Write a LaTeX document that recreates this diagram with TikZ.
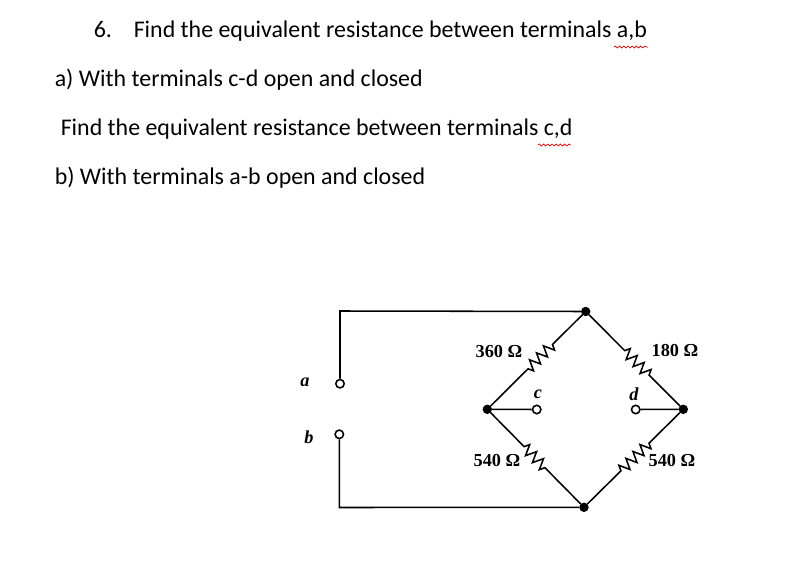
\documentclass[tikz,border=0pt]{standalone}
\usepackage{fontspec}
\setmainfont{Carlito}
\newfontfamily\labelfont{Liberation Serif}
\usetikzlibrary{decorations.pathmorphing}

\begin{document}
\begin{tikzpicture}[x=0.025cm,y=-0.025cm,line width=1.1pt]
		\tikzstyle{textline}=[anchor=base west,inner sep=0pt,font=\fontsize{17}{20}\selectfont]
		\tikzstyle{ohms}=[inner sep=0pt,font=\labelfont\bfseries\fontsize{13}{15}\selectfont]
		\tikzstyle{letter}=[inner sep=0pt,font=\labelfont\bfseries\itshape\fontsize{13}{15}\selectfont]
		\tikzstyle{junction}=[draw,shape=circle,fill=black,inner sep=0pt,minimum size=5.5pt]
		\tikzstyle{terminal}=[draw,shape=circle,fill=white,inner sep=0pt,minimum size=6pt]
		\tikzstyle{squiggle}=[red!80!black,line width=0.5pt,decorate,decoration={snake,amplitude=0.7pt,segment length=3pt}]
		\tikzset{res/.style 2 args={decorate,decoration={zigzag,amplitude=3.8pt,segment length=7pt,pre length=#1,post length=#2}}}

		\useasboundingbox (0,0) rectangle (802,565);

		\node[textline](num) at (93,38){6.};
		\node[textline](q1) at (133,38){Find the equivalent resistance between terminals a,b};
		\node[textline](q2) at (54,87){a) With terminals c-d open and closed};
		\node[textline](q3) at (60,135){Find the equivalent resistance between terminals c,d};
		\node[textline](q4) at (54,184){b) With terminals a-b open and closed};

		\coordinate (sq1a) at (614,47);
		\coordinate (sq1b) at (648,47);
		\coordinate (sq2a) at (538,145);
		\coordinate (sq2b) at (571,145);
		\draw[squiggle] (sq1a) -- (sq1b);
		\draw[squiggle] (sq2a) -- (sq2b);

		\node[junction](top) at (585.7,311.5){};
		\node[junction](left) at (487.3,409.3){};
		\node[junction](right) at (683.3,409.3){};
		\node[junction](bottom) at (584,507.3){};

		\node[terminal](ta) at (340,383.7){};
		\node[terminal](tb) at (339.3,434.3){};
		\node[terminal](tc) at (536.7,409.5){};
		\node[terminal](td) at (635.7,409.5){};

		\coordinate (cornera) at (340,311);
		\coordinate (cornerb) at (339.3,507.5);

		\draw (ta) -- (cornera) -- (top);
		\draw (tb) -- (cornerb) -- (bottom);
		\draw (left) -- (tc);
		\draw (right) -- (td);

		\draw[res={30pt}{34pt}] (top) -- (left);
		\draw[res={36pt}{31pt}] (top) -- (right);
		\draw[res={34pt}{33pt}] (left) -- (bottom);
		\draw[res={31pt}{33pt}] (right) -- (bottom);

		\node[ohms](r1) at (499,352){360 Ω};
		\node[ohms](r2) at (675,351){180 Ω};
		\node[ohms](r3) at (497,461){540 Ω};
		\node[ohms](r4) at (672,461){540 Ω};

		\node[letter](la) at (305,382){a};
		\node[letter](lb) at (309,437){b};
		\node[letter](lc) at (538,394){c};
		\node[letter](ld) at (634,394){d};
	\end{tikzpicture}
\end{document}
